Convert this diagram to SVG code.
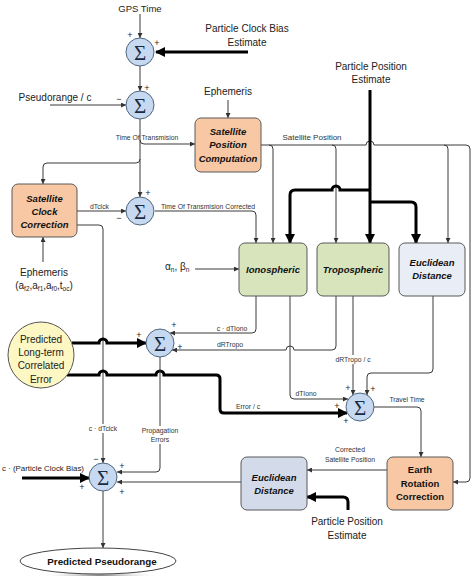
<svg xmlns="http://www.w3.org/2000/svg" width="474" height="576" viewBox="0 0 474 576">
<defs>
<marker id="a" viewBox="0 0 10 10" refX="10" refY="5" markerWidth="6" markerHeight="5" orient="auto" markerUnits="userSpaceOnUse"><path d="M0,0 L10,5 L0,10 z" fill="#333"/></marker>
<marker id="A" viewBox="0 0 10 10" refX="9" refY="5" markerWidth="10" markerHeight="10" orient="auto" markerUnits="userSpaceOnUse"><path d="M0,0 L10,5 L0,10 z" fill="#000"/></marker>
<radialGradient id="sh" cx="0.5" cy="0.5" r="0.5"><stop offset="0" stop-color="#777"/><stop offset="1" stop-color="#fff" stop-opacity="0"/></radialGradient>
</defs>
<style>
text{font-family:"Liberation Sans",Arial,sans-serif;fill:#222;text-anchor:middle}
.l{font-size:10px}
.s{font-size:6.8px;fill:#333}
.bi{font-size:9.5px;font-weight:bold;font-style:italic;fill:#111}
.b{font-size:9.5px;font-weight:bold;fill:#111}
.sg{font-size:9px}
.sig{font-family:"Liberation Serif","DejaVu Serif",serif;font-size:21px;fill:#1a2a44}
.sum{fill:#c6d9f0;stroke:#4f6680;stroke-width:1}
.or{fill:#f8c8a4;stroke:#595959;stroke-width:1}
.gr{fill:#d8e4bc;stroke:#595959;stroke-width:1}
.eu{fill:#e9edf6;stroke:#595959;stroke-width:1}
.eu2{fill:#d3dbea;stroke:#595959;stroke-width:1}
.t{fill:none;stroke:#3a3a3a;stroke-width:1}
.k{fill:none;stroke:#000;stroke-width:3}
</style>

<g id="connectors">
<path class="t" d="M140 14 V38" marker-end="url(#a)"/>
<path class="t" d="M140 66 V91" marker-end="url(#a)"/>
<path class="k" d="M248 52 H156" marker-end="url(#A)"/>
<path class="t" d="M50 105 H126" marker-end="url(#a)"/>
<path class="t" d="M228 100 V118" marker-end="url(#a)"/>
<path class="t" d="M140 119 V197" marker-end="url(#a)"/>
<path class="t" d="M140 140 Q140 144 144 144 H195" marker-end="url(#a)"/>
<path class="t" d="M140 159 Q140 163 136 163 H47 Q43 163 43 167 V184" marker-end="url(#a)"/>
<path class="t" d="M261 145 H366 a4 4 0 0 1 8 0 H466 Q470 145 470 149 V478 Q470 482 466 482 H453" marker-end="url(#a)"/>
<path class="t" d="M269 145 Q273 145 273 149 V243" marker-end="url(#a)"/>
<path class="t" d="M332 145 Q336 145 336 149 V243" marker-end="url(#a)"/>
<path class="t" d="M444 145 Q448 145 448 149 V243" marker-end="url(#a)"/>
<path class="k" d="M370 90 V243" marker-end="url(#A)"/>
<path class="k" d="M370 190 H340 a4 4 0 0 0 -8 0 H295 Q290 190 290 195 V243" marker-end="url(#A)"/>
<path class="k" d="M370 202 H411 Q416 202 416 207 V243" marker-end="url(#A)"/>
<path class="t" d="M77 211 H126" marker-end="url(#a)"/>
<path class="t" d="M155 211 H252 Q256 211 256 215 V243" marker-end="url(#a)"/>
<path class="t" d="M77 225 H99 Q103 225 103 229 V463" marker-end="url(#a)"/>
<path class="t" d="M43 262 V237" marker-end="url(#a)"/>
<path class="t" d="M195 269 H239" marker-end="url(#a)"/>
<path class="k" d="M72 343 H99 a4 4 0 0 1 8 0 H146" marker-end="url(#A)"/>
<path class="k" d="M67 375 H99 a4 4 0 0 1 8 0 H156 a4 4 0 0 1 8 0 H216 Q220 375 220 379 V409 Q220 413 224 413 H347" marker-end="url(#A)"/>
<path class="t" d="M256 296 V329 Q256 333 252 333 H170" marker-end="url(#a)"/>
<path class="t" d="M336 296 V346 Q336 350 332 350 H294 a4 4 0 0 0 -8 0 H172" marker-end="url(#a)"/>
<path class="t" d="M290 296 V395 Q290 399 294 399 H348" marker-end="url(#a)"/>
<path class="t" d="M353 296 V395" marker-end="url(#a)"/>
<path class="t" d="M433 296 V369 Q433 373 429 373 H371 Q367 373 367 377 V395" marker-end="url(#a)"/>
<path class="t" d="M374 407 H417 Q421 407 421 411 V457" marker-end="url(#a)"/>
<path class="t" d="M160 357 V468 Q160 472 156 472 H117" marker-end="url(#a)"/>
<path class="t" d="M387 470 H307" marker-end="url(#a)"/>
<path class="t" d="M241 482 H117" marker-end="url(#a)"/>
<path class="k" d="M348 510 V502 Q348 497 343 497 H307" marker-end="url(#A)"/>
<path class="k" d="M22 478 H89" marker-end="url(#A)"/>
<path class="t" d="M103 491 V548" marker-end="url(#a)"/>
</g>

<g id="labels">
<text class="l" x="140" y="12" style="font-size:9.5px">GPS Time</text>
<text class="l" x="247" y="32">Particle Clock Bias</text>
<text class="l" x="247" y="46">Estimate</text>
<text class="l" x="55" y="101">Pseudorange / c</text>
<text class="l" x="228" y="95">Ephemeris</text>
<text class="s" x="147" y="139.5">Time Of Transmision</text>
<text class="s" x="312" y="140" style="font-size:8px">Satellite Position</text>
<text class="l" x="371" y="69.5">Particle Position</text>
<text class="l" x="371" y="83">Estimate</text>
<text class="s" x="99.5" y="208.5">dTclck</text>
<text class="s" x="208" y="208.5">Time Of Transmision Corrected</text>
<text class="l" x="165" y="270" style="text-anchor:start">α<tspan font-size="6.5" dy="2">n</tspan><tspan dy="-2">, β</tspan><tspan font-size="6.5" dy="2">n</tspan></text>
<text class="l" x="44" y="275.5">Ephemeris</text>
<text class="l" x="44" y="289">(a<tspan font-size="6.5" dy="2">f2</tspan><tspan dy="-2">,a</tspan><tspan font-size="6.5" dy="2">f1</tspan><tspan dy="-2">,a</tspan><tspan font-size="6.5" dy="2">f0</tspan><tspan dy="-2">,t</tspan><tspan font-size="6.5" dy="2">oc</tspan><tspan dy="-2">)</tspan></text>
<text class="s" x="232" y="330.5">c · dTIono</text>
<text class="s" x="230" y="346.5">dRTropo</text>
<rect x="334" y="355" width="38" height="9" fill="#fff"/>
<text class="s" x="353" y="361.5">dRTropo / c</text>
<text class="s" x="306" y="395.5">dTIono</text>
<text class="s" x="248" y="409">Error / c</text>
<text class="s" x="407" y="401.5">Travel Time</text>
<rect x="89" y="424" width="28" height="9" fill="#fff"/>
<text class="s" x="103" y="430.5">c · dTclck</text>
<rect x="140" y="426" width="40" height="18" fill="#fff"/>
<text class="s" x="160" y="432.5">Propagation</text>
<text class="s" x="160" y="441.5">Errors</text>
<text class="s" x="350" y="452">Corrected</text>
<text class="s" x="350" y="461.5">Satellite Position</text>
<text class="l" x="347" y="524.5">Particle Position</text>
<text class="l" x="347" y="538.5">Estimate</text>
<text class="l" x="2" y="470.5" style="text-anchor:start;font-size:7.9px">c · (Particle Clock Bias)</text>
</g>

<g id="signs">
<text class="sg" x="130" y="38">+</text><text class="sg" x="157" y="46">+</text>
<text class="sg" x="147" y="91">+</text><text class="sg" x="119" y="102">−</text>
<text class="sg" x="148" y="196">+</text><text class="sg" x="119" y="221">−</text>
<text class="sg" x="139" y="338">+</text><text class="sg" x="174" y="328">+</text><text class="sg" x="180" y="350">+</text>
<text class="sg" x="348" y="391">+</text><text class="sg" x="373" y="392">+</text><text class="sg" x="337" y="409">+</text><text class="sg" x="346" y="424">+</text>
<text class="sg" x="96" y="462">−</text><text class="sg" x="122" y="469">+</text><text class="sg" x="82" y="490">+</text><text class="sg" x="122" y="495">+</text>
</g>

<g id="sum1"><circle class="sum" cx="140" cy="52" r="14"/><text class="sig" x="140" y="59.5">Σ</text></g>
<g id="sum2"><circle class="sum" cx="140" cy="105" r="14"/><text class="sig" x="140" y="112.5">Σ</text></g>
<g id="sum3"><circle class="sum" cx="140" cy="211" r="14"/><text class="sig" x="140" y="218.5">Σ</text></g>
<g id="sum4"><circle class="sum" cx="160" cy="343" r="14"/><text class="sig" x="160" y="350.5">Σ</text></g>
<g id="sum5"><circle class="sum" cx="360" cy="407" r="14"/><text class="sig" x="360" y="414.5">Σ</text></g>
<g id="sum6"><circle class="sum" cx="103" cy="477" r="14"/><text class="sig" x="103" y="484.5">Σ</text></g>

<g id="satpos"><rect class="or" x="195" y="118" width="66" height="54" rx="6"/>
<text class="bi" x="228" y="134.5">Satellite</text><text class="bi" x="228" y="148">Position</text><text class="bi" x="228" y="161.5">Computation</text></g>
<g id="satclock"><rect class="or" x="12" y="184" width="65" height="53" rx="6"/>
<text class="bi" x="44.5" y="201.5">Satellite</text><text class="bi" x="44.5" y="214.5">Clock</text><text class="bi" x="44.5" y="227.5">Correction</text></g>
<g id="iono"><rect class="gr" x="239" y="243" width="68" height="53" rx="6"/><text class="bi" x="273" y="272.5">Ionospheric</text></g>
<g id="tropo"><rect class="gr" x="317" y="243" width="72" height="53" rx="6"/><text class="bi" x="353" y="272.5">Tropospheric</text></g>
<g id="euclid1"><rect class="eu" x="399" y="243" width="66" height="53" rx="6"/><text class="bi" x="432" y="265.5">Euclidean</text><text class="bi" x="432" y="279">Distance</text></g>
<g id="earthrot"><rect class="or" x="387" y="457" width="66" height="53" rx="6"/>
<text class="b" x="420" y="472.5">Earth</text><text class="b" x="420" y="486.5">Rotation</text><text class="b" x="420" y="499.5">Correction</text></g>
<g id="euclid2"><rect class="eu2" x="241" y="457" width="66" height="53" rx="6"/><text class="bi" x="274" y="480.5">Euclidean</text><text class="bi" x="274" y="493.5">Distance</text></g>
<g id="ltce"><circle cx="41" cy="355" r="33" fill="#fdf7c3" stroke="#555" stroke-width="1"/>
<text class="l" x="41" y="342.5">Predicted</text><text class="l" x="41" y="355.5">Long-term</text><text class="l" x="41" y="368.5">Correlated</text><text class="l" x="41" y="382.5">Error</text></g>
<g id="pseudorange"><ellipse cx="100" cy="576" rx="60" ry="6" fill="url(#sh)"/>
<ellipse cx="98" cy="561" rx="78" ry="13" fill="#fff" stroke="#444" stroke-width="1"/>
<text class="b" x="102" y="565" style="font-size:9.8px">Predicted Pseudorange</text></g>
</svg>
